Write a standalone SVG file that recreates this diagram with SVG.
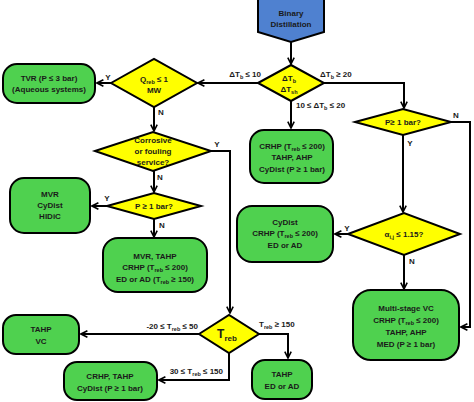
<svg xmlns="http://www.w3.org/2000/svg" width="474" height="402" viewBox="0 0 474 402">
<defs>
<style>
.box{fill:#4fd14f;stroke:#000;stroke-width:2}
.dia{fill:#ffff00;stroke:#000;stroke-width:2}
.blue{fill:#4f81d0;stroke:#000;stroke-width:2}
.t{font-family:"Liberation Sans",Arial,sans-serif;font-weight:bold;font-size:8px;fill:#1a1a1a;text-anchor:middle}
.l{font-family:"Liberation Sans",Arial,sans-serif;font-weight:bold;font-size:8px;fill:#1a1a1a}
.s{font-size:5.5px}
.c{fill:none;stroke:#000;stroke-width:2;marker-end:url(#ah)}
</style>
<marker id="ah" viewBox="0 0 10 10" refX="9" refY="5" markerWidth="4" markerHeight="4" orient="auto" markerUnits="strokeWidth">
<path d="M1,1 L9,5 L1,9" fill="none" stroke="#000" stroke-width="2"/>
</marker>
</defs>
<rect width="474" height="402" fill="#fff"/>

<g id="connectors">
<path class="c" d="M291,42 V64"/>
<path class="c" d="M258,83 H198"/>
<path class="c" d="M324,83 H404 V108"/>
<path class="c" d="M291,101 V128"/>
<path class="c" d="M111,83 H97"/>
<path class="c" d="M154,107 V131"/>
<path class="c" d="M211,151 H230 V313"/>
<path class="c" d="M154,171 V192"/>
<path class="c" d="M107,206 H92"/>
<path class="c" d="M154,219 V237"/>
<path class="c" d="M403,135 V212"/>
<path class="c" d="M451,122 H470 V327 H461"/>
<path class="c" d="M348,234 H335"/>
<path class="c" d="M404,255 V289"/>
<path class="c" d="M199,334 H81"/>
<path class="c" d="M229,353 V380 H159"/>
<path class="c" d="M259,334 H288 V358"/>
</g>

<g id="edge-labels">
<text class="t" x="108" y="80">Y</text>
<text class="t" x="161" y="115">N</text>
<text class="l" x="261" y="77" text-anchor="end">ΔT<tspan class="s" dy="1.5">b</tspan><tspan dy="-1.5"> ≤ 10</tspan></text>
<text class="l" x="320" y="77">ΔT<tspan class="s" dy="1.5">b</tspan><tspan dy="-1.5"> ≥ 20</tspan></text>
<text class="l" x="296" y="108">10 ≤ ΔT<tspan class="s" dy="1.5">b</tspan><tspan dy="-1.5"> ≤ 20</tspan></text>
<text class="t" x="456" y="118">N</text>
<text class="t" x="410" y="146">Y</text>
<text class="t" x="217" y="147">Y</text>
<text class="t" x="160" y="180">N</text>
<text class="t" x="107" y="201">Y</text>
<text class="t" x="162" y="228">N</text>
<text class="t" x="347" y="231">Y</text>
<text class="t" x="412" y="264">N</text>
<text class="l" x="198" y="329" text-anchor="end">-20 ≤ T<tspan class="s" dy="1.5">reb</tspan><tspan dy="-1.5"> ≤ 50</tspan></text>
<text class="l" x="223" y="374" text-anchor="end">30 ≤ T<tspan class="s" dy="1.5">reb</tspan><tspan dy="-1.5"> ≤ 150</tspan></text>
<text class="l" x="259" y="327">T<tspan class="s" dy="1.5">reb</tspan><tspan dy="-1.5"> ≥ 150</tspan></text>
</g>

<g id="n-binary">
<path class="blue" d="M258,-1 H324 V32 L291,42 L258,32 Z"/>
<text class="t" x="291" y="16">Binary</text>
<text class="t" x="291" y="27">Distillation</text>
</g>

<g id="n-dtb">
<polygon class="dia" points="258,83 291,65 324,83 291,101"/>
<text class="t" x="289" y="81">ΔT<tspan class="s" dy="1.5">b</tspan></text>
<text class="t" x="289" y="92">ΔT<tspan class="s" dy="1.5">sh</tspan></text>
</g>

<g id="n-qreb">
<polygon class="dia" points="111,83 154,59 197,83 154,107"/>
<text class="t" x="154" y="82">Q<tspan class="s" dy="1.5">reb</tspan><tspan dy="-1.5"> ≤ 1</tspan></text>
<text class="t" x="154" y="93">MW</text>
</g>

<g id="n-tvr">
<rect class="box" x="3" y="64" width="92" height="39" rx="14"/>
<text class="t" x="49" y="81">TVR (P ≤ 3 bar)</text>
<text class="t" x="49" y="92">(Aqueous systems)</text>
</g>

<g id="n-corrosive">
<polygon class="dia" points="95,151 153,132 211,151 153,171"/>
<text class="t" x="153" y="143">Corrosive</text>
<text class="t" x="153" y="154">or fouling</text>
<text class="t" x="153" y="165">service?</text>
</g>

<g id="n-p1-left">
<polygon class="dia" points="107,206 154,193 201,206 154,219"/>
<text class="t" x="154" y="209">P ≥ 1 bar?</text>
</g>

<g id="n-mvr-cydist">
<rect class="box" x="10" y="178" width="80" height="55" rx="14"/>
<text class="t" x="50" y="197">MVR</text>
<text class="t" x="50" y="208">CyDist</text>
<text class="t" x="50" y="219">HIDiC</text>
</g>

<g id="n-mvr-tahp">
<rect class="box" x="103" y="238" width="104" height="54" rx="15"/>
<text class="t" x="155" y="259">MVR, TAHP</text>
<text class="t" x="155" y="270">CRHP (T<tspan class="s" dy="1.5">reb</tspan><tspan dy="-1.5"> ≤ 200)</tspan></text>
<text class="t" x="155" y="282">ED or AD (T<tspan class="s" dy="1.5">reb</tspan><tspan dy="-1.5"> ≥ 150)</tspan></text>
</g>

<g id="n-crhp-mid">
<rect class="box" x="250" y="130" width="83" height="53" rx="14"/>
<text class="t" x="292" y="149">CRHP (T<tspan class="s" dy="1.5">reb</tspan><tspan dy="-1.5"> ≤ 200)</tspan></text>
<text class="t" x="292" y="160">TAHP, AHP</text>
<text class="t" x="292" y="172">CyDist (P ≥ 1 bar)</text>
</g>

<g id="n-p1-right">
<polygon class="dia" points="355,122 403,109 451,122 403,135"/>
<text class="t" x="403" y="125">P≥ 1 bar?</text>
</g>

<g id="n-alpha">
<polygon class="dia" points="348,234 404,213 460,234 404,255"/>
<text class="t" x="404" y="237">α<tspan class="s" dy="1.5">i,j</tspan><tspan dy="-1.5"> ≤ 1.15?</tspan></text>
</g>

<g id="n-cydist">
<rect class="box" x="237" y="206" width="96" height="56" rx="15"/>
<text class="t" x="285" y="225">CyDist</text>
<text class="t" x="285" y="236">CRHP  (T<tspan class="s" dy="1.5">reb</tspan><tspan dy="-1.5"> ≤ 200)</tspan></text>
<text class="t" x="285" y="248">ED or AD</text>
</g>

<g id="n-multistage">
<rect class="box" x="353" y="290" width="106" height="70" rx="18"/>
<text class="t" x="406" y="311">Multi-stage VC</text>
<text class="t" x="406" y="323">CRHP (T<tspan class="s" dy="1.5">reb</tspan><tspan dy="-1.5"> ≤ 200)</tspan></text>
<text class="t" x="406" y="335">TAHP, AHP</text>
<text class="t" x="406" y="347">MED (P ≥ 1 bar)</text>
</g>

<g id="n-treb">
<polygon class="dia" points="199,334 229,315 259,334 229,353"/>
<text x="227" y="338" style="font-family:'Liberation Sans',Arial,sans-serif;font-weight:bold;font-size:12px;fill:#1a1a1a;text-anchor:middle">T<tspan style="font-size:8px" dy="3">reb</tspan></text>
</g>

<g id="n-tahp-vc">
<rect class="box" x="3" y="315" width="76" height="39" rx="13"/>
<text class="t" x="41" y="332">TAHP</text>
<text class="t" x="41" y="344">VC</text>
</g>

<g id="n-crhp-tahp">
<rect class="box" x="64" y="362" width="93" height="38" rx="13"/>
<text class="t" x="110" y="379">CRHP, TAHP</text>
<text class="t" x="110" y="391">CyDist (P ≥ 1 bar)</text>
</g>

<g id="n-tahp-ed">
<rect class="box" x="252" y="360" width="60" height="39" rx="13"/>
<text class="t" x="282" y="377">TAHP</text>
<text class="t" x="282" y="389">ED or AD</text>
</g>
</svg>
